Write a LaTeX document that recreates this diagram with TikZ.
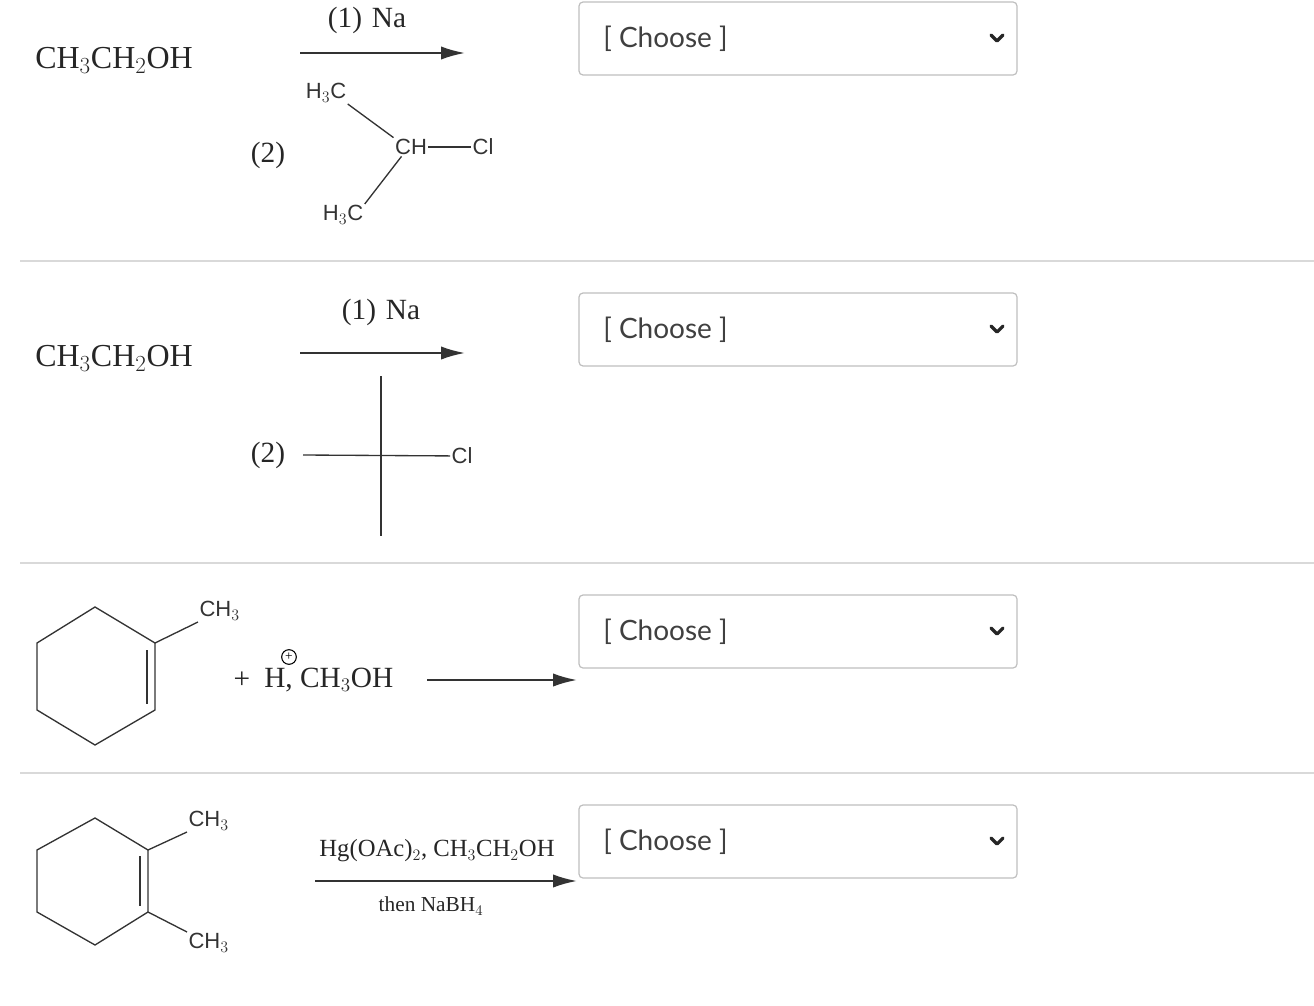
\documentclass[tikz,border=0pt]{standalone}
\usepackage{fontspec}
\setmainfont{Liberation Serif}
\newfontfamily\hv{Liberation Sans}
\newfontfamily\lt{Lato}
\usetikzlibrary{arrows.meta}
\begin{document}
\begin{tikzpicture}[x=0.75pt,y=-0.75pt,
  ser/.style={font=\fontsize{24}{26}\selectfont,inner sep=0pt,text=black!85},
  reag/.style={font=\fontsize{22}{24}\selectfont,inner sep=0pt,text=black!85},
  sans/.style={font=\hv\fontsize{16.5}{18}\selectfont,inner sep=1pt,text=black!80},
  bond/.style={line width=1pt,black!80},
  rxn/.style={line width=1.6pt,black!80,-{Latex[length=18pt,width=10pt]}},
  sep/.style={line width=0.8pt,black!15},
  box/.style={draw=black!25,line width=0.9pt,rounded corners=3pt,fill=white},
  choose/.style={font=\lt\fontsize{21}{23}\selectfont,text=black!75,anchor=west,inner sep=0pt}]
\useasboundingbox (0,0) rectangle (1314,1006);
% separators
\draw[sep] (20,261) -- (1314,261);
\draw[sep] (20,563) -- (1314,563);
\draw[sep] (20,773) -- (1314,773);
% boxes
\foreach \y/\n in {2/b1,293/b2,595/b3,805/b4}{
  \draw[box] (579,\y) rectangle (1017,\y+73);
  \node[choose] (\n) at (603,\y+37) {[ Choose ]};
  \draw[line width=2.4pt,black!85,line cap=round,line join=round] (991,\y+33) -- (997,\y+39) -- (1003,\y+33);
}
% row 1
\node[ser,anchor=west] (r1) at (35,60) {CH$_3$CH$_2$OH};
\coordinate (a1s) at (300,53); \coordinate (a1e) at (465,53);
\draw[rxn] (a1s) -- (a1e);
\node[reag] (na1) at (367,20) {(1)\,\,Na};
\node[reag] (two1) at (268,155) {(2)};
\node[sans] (h3ca) at (326,93) {H$_3$C};
\node[sans] (ch) at (411,147) {CH};
\node[sans] (cl1) at (483,147) {Cl};
\node[sans] (h3cb) at (343,215) {H$_3$C};
\draw[bond] (h3ca.south east) -- (ch.north west);
\draw[bond] (ch) -- (cl1);
\draw[bond] (ch.south west) ++(8,0) -- (h3cb.north east);
% row 2
\node[ser,anchor=west] (r2) at (35,358) {CH$_3$CH$_2$OH};
\coordinate (a2s) at (300,353); \coordinate (a2e) at (465,353);
\draw[rxn] (a2s) -- (a2e);
\node[reag] (na2) at (381,312) {(1)\,\,Na};
\node[reag] (two2) at (268,455) {(2)};
\node[sans] (cl2) at (462,456) {Cl};
\coordinate (tl) at (303,455); \coordinate (tt) at (381,376); \coordinate (tb) at (381,536);
\draw[bond] (tl) -- (cl2);
\draw[bond] (tt) -- (tb);
% row 3 ring
\coordinate (p1) at (95,607); \coordinate (p2) at (155,643); \coordinate (p3) at (155,710);
\coordinate (p4) at (95,745); \coordinate (p5) at (37,710); \coordinate (p6) at (37,643);
\draw[bond] (p1)--(p2)--(p3)--(p4)--(p5)--(p6)--cycle;
\draw[bond] (147,650) -- (147,704);
\node[sans,anchor=south west] (me3) at (198,622) {CH$_3$};
\draw[bond] (p2) -- (me3.south west);
\node[reag] (plus) at (242,680) {+};
\node[reag,anchor=west] (hch) at (264,680) {H, CH$_3$OH};
\node[draw,circle,inner sep=0pt,minimum size=11pt,line width=0.8pt,font=\fontsize{10}{10}\selectfont] (pc) at (289,657) {+};
\coordinate (a3s) at (427,680); \coordinate (a3e) at (577,680);
\draw[rxn] (a3s) -- (a3e);
% row 4 ring
\coordinate (q1) at (95,818); \coordinate (q2) at (148,850); \coordinate (q3) at (148,912);
\coordinate (q4) at (95,945); \coordinate (q5) at (37,912); \coordinate (q6) at (37,850);
\draw[bond] (q1)--(q2)--(q3)--(q4)--(q5)--(q6)--cycle;
\draw[bond] (140,856) -- (140,906);
\node[sans,anchor=south west] (me4a) at (187,832) {CH$_3$};
\node[sans,anchor=north west] (me4b) at (187,932) {CH$_3$};
\draw[bond] (q2) -- (me4a.south west);
\draw[bond] (q3) -- (me4b.north west);
\node[font=\fontsize{18.5}{20}\selectfont,inner sep=0pt,text=black!85] (hg) at (437,851) {Hg(OAc)$_2$, CH$_3$CH$_2$OH};
\node[font=\fontsize{16}{18}\selectfont,inner sep=0pt,text=black!85] (nab) at (431,906) {then NaBH$_4$};
\coordinate (a4s) at (315,881); \coordinate (a4e) at (577,881);
\draw[rxn] (a4s) -- (a4e);
\end{tikzpicture}
\end{document}
